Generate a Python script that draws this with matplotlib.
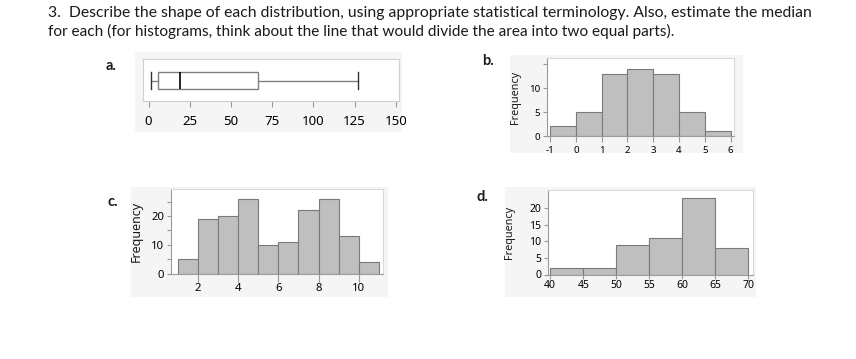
import matplotlib.pyplot as plt
from matplotlib.patches import Rectangle

plt.rcParams['axes.unicode_minus'] = False

# question text
line1 = "3.  Describe the shape of each distribution, using appropriate statistical terminology. Also, estimate the median"
line2 = "for each (for histograms, think about the line that would divide the area into two equal parts)."

# a. box plot (five number summary)
a_stats = dict(whislo=1.5, q1=5.9, med=19.2, q3=66.4, whishi=127.4, fliers=[])
a_ticks = [0, 25, 50, 75, 100, 125, 150]

# b. histogram
b_edges = [-1, 0, 1, 2, 3, 4, 5, 6]
b_counts = [2, 5, 13, 14, 13, 5, 1]

# c. histogram
c_edges = [1, 2, 3, 4, 5, 6, 7, 8, 9, 10, 11]
c_counts = [5, 19, 20, 26, 10, 11, 22, 26, 13, 4]

# d. histogram
d_edges = [40, 45, 50, 55, 60, 65, 70]
d_counts = [2, 2, 9, 11, 23, 8]

W, H = 856, 359
fig = plt.figure(figsize=(W / 100, H / 100), dpi=100)
fig.patch.set_facecolor('white')


def px_axes(l, t, r, b):
    return fig.add_axes([l / W, 1 - b / H, (r - l) / W, (b - t) / H])


def panel(l, t, r, b):
    fig.patches.append(Rectangle((l / W, 1 - b / H), (r - l) / W, (b - t) / H,
                                 transform=fig.transFigure, facecolor='#f5f5f5',
                                 edgecolor='none', zorder=-5))


TXT = '#1a1a1a'
TICKFONT = 'Noto Sans'

# header text
fig.text(48 / W, 1 - 16.5 / H, line1, fontsize=11.3, family='Lato', color=TXT)
fig.text(48 / W, 1 - 36 / H, line2, fontsize=11.1, family='Lato', color=TXT)

# labels a. b. c. d.
for lab, x, y in [('a.', 106, 70), ('b.', 482, 65), ('c.', 108, 206), ('d.', 477, 201)]:
    fig.text(x / W, 1 - y / H, lab, fontsize=10.5, family='Lato', fontweight='bold', color=TXT)

# grey report panels
panel(135, 52, 402, 132)
panel(510, 55, 743, 153)
panel(131, 187, 388, 297)
panel(505, 187, 756, 297)

# ---- a. box plot
ax = px_axes(143, 59, 399, 101)
ax.set_facecolor('white')
ax.bxp([a_stats], positions=[0.485], widths=0.41, capwidths=0.41, vert=False,
       showfliers=False, patch_artist=True,
       boxprops=dict(facecolor='white', edgecolor='#808080', linewidth=1),
       whiskerprops=dict(color='#808080', linewidth=1),
       capprops=dict(color='#333333', linewidth=1),
       medianprops=dict(color='black', linewidth=1.2))
ax.set_xlim(-3.4, 152)
ax.set_ylim(0, 1)
ax.set_yticks([])
ax.set_xticks(a_ticks)
ax.tick_params(axis='x', length=4, width=0.8, color='#999999', pad=6, labelsize=9.5)
for s in ax.spines.values():
    s.set_color('#d0d0d0')
    s.set_linewidth(0.8)
for t in ax.get_xticklabels():
    t.set_family(TICKFONT)


def hist_axes(box, edges, counts, xlim, ylim, xticks, yticks, yminor, fs, lfs, xlen, xpad, ylab_x):
    l, t, r, b = box
    ax = px_axes(l, t, r, b)
    ax.set_facecolor('white')
    widths = [edges[i + 1] - edges[i] for i in range(len(counts))]
    ax.bar(edges[:-1], counts, width=widths, align='edge', color='#bfbfbf',
           edgecolor='#7a7a7a', linewidth=0.8)
    ax.set_xlim(*xlim)
    ax.set_ylim(*ylim)
    ax.set_xticks(xticks)
    ax.set_yticks(yticks)
    ax.set_yticks(yminor, minor=True)
    ax.tick_params(axis='x', length=xlen, width=0.8, color='#999999', pad=xpad, labelsize=fs)
    ax.tick_params(axis='y', which='both', length=3, width=0.8, color='#999999', pad=2, labelsize=fs)
    for s in ['top', 'right']:
        ax.spines[s].set_color('#d9d9d9')
    for s in ['left', 'bottom']:
        ax.spines[s].set_color('#9a9a9a')
    for s in ax.spines.values():
        s.set_linewidth(0.8)
    for t in ax.get_xticklabels() + ax.get_yticklabels():
        t.set_family(TICKFONT)
    ax.set_ylabel('Frequency', family=TICKFONT, fontsize=lfs, color=TXT)
    ax.yaxis.set_label_coords((ylab_x - l) / (r - l), 0.5)
    return ax


# ---- b.
hist_axes((547, 58, 734, 136), b_edges, b_counts, (-1.12, 6.13), (0, 16.25),
          list(range(-1, 7)), [0, 5, 10], [15], 7, 7.8, 4, 3, 520.5)

# ---- c.
hist_axes((171, 189, 383, 273.5), c_edges, c_counts, (0.67, 11.2), (0, 29.4),
          [2, 4, 6, 8, 10], [0, 10, 20], [5, 15, 25], 8.2, 9, 6, 1, 143)

# ---- d.
hist_axes((548, 190, 753, 274.5), d_edges, d_counts, (39.65, 70.7), (0, 25.4),
          d_edges, [0, 5, 10, 15, 20], [], 7.5, 7.8, 3, 1, 514.5)

fig.savefig('out.png', dpi=100)
